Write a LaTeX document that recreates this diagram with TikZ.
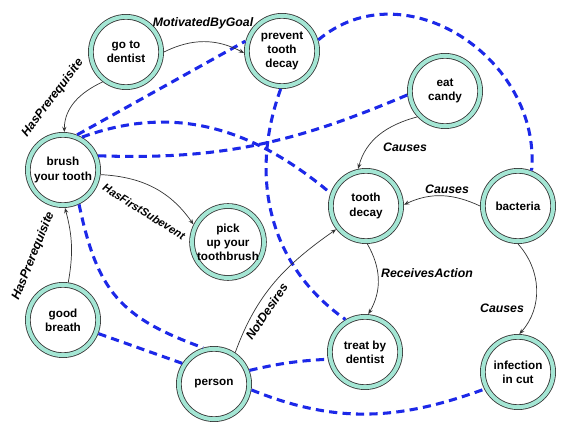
\documentclass[tikz,border=0pt]{standalone}
\usepackage{fontspec}
\setmainfont{Liberation Sans}
\usetikzlibrary{arrows.meta}
\definecolor{ringteal}{RGB}{164,230,212}
\definecolor{linkblue}{RGB}{28,40,232}
\definecolor{rimgray}{RGB}{55,55,55}

\begin{document}
\begin{tikzpicture}[
  concept/.style={circle, draw=rimgray, line width=0.7pt, double=ringteal, double distance=3.4pt,
    fill=white, minimum size=60pt, inner sep=0pt, outer sep=2.4pt, align=center,
    font=\fontsize{10}{12}\selectfont\bfseries},
  rel/.style={draw=black!80, line width=0.6pt, -{Stealth[length=4.5pt,width=3.5pt]}},
  link/.style={draw=linkblue, line width=2.6pt, dash pattern=on 7pt off 4.5pt},
  lbl/.style={font=\fontsize{10.5}{12}\selectfont\bfseries\itshape, inner sep=0pt}
]
  \useasboundingbox (0,0) rectangle (17.1,13.02);

  \node[concept] (dentist) at (3.78,11.46) {go to\\dentist};
  \node[concept] (prevent) at (8.46,11.49) {prevent\\tooth\\decay};
  \node[concept] (candy) at (13.35,10.29) {eat\\candy};
  \node[concept] (brush) at (1.89,7.92) {brush\\your tooth};
  \node[concept] (decay) at (10.98,6.84) {tooth\\decay};
  \node[concept] (bacteria) at (15.54,6.84) {bacteria};
  \node[concept] (pickup) at (6.84,5.76) {pick\\up your\\toothbrush};
  \node[concept] (breath) at (1.89,3.42) {good\\breath};
  \node[concept] (person) at (6.42,1.50) {person};
  \node[concept] (treat) at (10.95,2.46) {treat by\\dentist};
  \node[concept] (infection) at (15.54,1.86) {infection\\in cut};

  % dashed links
  \draw[link] (brush.68) -- (prevent.165);
  \draw[link] (brush.22) to[out=-2,in=203] (candy.186);
  \draw[link] (brush.60) to[out=20,in=140] (decay.160);
  \draw[link] (prevent.-92) to[out=-110,in=145] (treat.121);
  \draw[link] (prevent.17) to[out=40,in=85,looseness=1.15] (bacteria.69);
  \draw[link] (brush.-65) to[out=-78,in=160,looseness=1.2] (person.107);
  \draw[link] (breath.-21) -- (person.147);
  \draw[link] (person.21) to[bend left=5] (treat.191);
  \draw[link] (person.-9) to[out=-22,in=200] (infection.207);

  % relations
  \draw[rel] (dentist.east) to[bend left=27] (prevent.183);
  \draw[rel] (dentist.232) to[out=205,in=90] (brush.88);
  \draw[rel] (brush.-7) to[out=-3,in=125] (pickup.153);
  \draw[rel] (breath.82) to[out=80,in=-75] (brush.-87);
  \draw[rel] (candy.223) to[out=195,in=75] (decay.102);
  \draw[rel] (bacteria.180) to[out=155,in=25] (decay.2);
  \draw[rel] (decay.-88) to[out=-60,in=60] (treat.85);
  \draw[rel] (bacteria.-90) to[out=-48,in=48] (infection.88);
  \draw[rel] (person.56) to[out=70,in=215] (decay.218);

  \node[lbl] (l-goal) at (6.09,12.33) {MotivatedByGoal};
  \node[lbl, rotate=53] (l-prereq) at (1.58,10.08) {HasPrerequisite};
  \node[lbl, rotate=-32, font=\fontsize{9.5}{11}\selectfont\bfseries\itshape] (l-first) at (4.32,6.67) {HasFirstSubevent};
  \node[lbl, rotate=68] (l-breath) at (1.0,5.34) {HasPrerequisite};
  \node[lbl] (l-candy) at (12.15,8.61) {Causes};
  \node[lbl] (l-bact) at (13.41,7.35) {Causes};
  \node[lbl] (l-action) at (12.81,4.83) {ReceivesAction};
  \node[lbl] (l-cut) at (15.06,3.78) {Causes};
  \node[lbl, rotate=56] (l-not) at (8.0,3.68) {NotDesires};
\end{tikzpicture}
\end{document}
